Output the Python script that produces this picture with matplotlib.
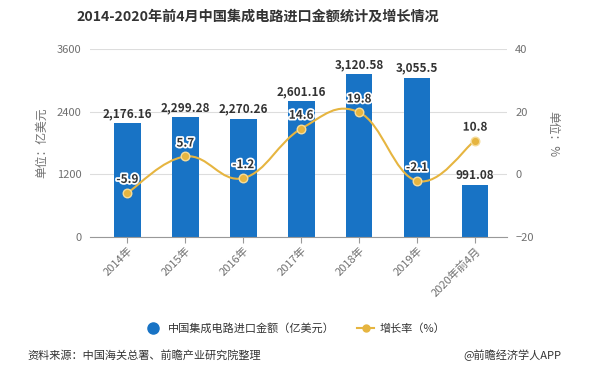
import matplotlib.pyplot as plt
import matplotlib.patheffects as pe
from matplotlib.path import Path
from matplotlib.patches import PathPatch
from matplotlib.lines import Line2D
import numpy as np

plt.rcParams['font.family'] = ['Noto Sans CJK SC', 'DejaVu Sans']

# datos
anios = ["2014年", "2015年", "2016年", "2017年", "2018年", "2019年", "2020年前4月"]
importe = [2176.16, 2299.28, 2270.26, 2601.16, 3120.58, 3055.5, 991.08]
etiquetas_importe = ["2,176.16", "2,299.28", "2,270.26", "2,601.16", "3,120.58", "3,055.5", "991.08"]
crecimiento = [-5.9, 5.7, -1.2, 14.6, 19.8, -2.1, 10.8]

azul = "#1873c5"
dorado = "#e6b540"
gris = "#707070"

fig = plt.figure(figsize=(6.07, 3.84), dpi=100)
ax = fig.add_axes([0.148, 0.383, 0.687, 0.489])
ax2 = ax.twinx()

x = np.arange(len(anios))
ax.bar(x, importe, width=0.46, color=azul, zorder=2)
for xi, v, t in zip(x, importe, etiquetas_importe):
    ax.text(xi, v + 60, t, ha="center", va="bottom", fontsize=8.5,
            fontweight="bold", color="#333333", zorder=5)

ax.set_ylim(0, 3600)
ax.set_yticks([0, 1200, 2400, 3600])
ax.set_xlim(-0.65, 6.55)
ax.grid(axis="y", color="#dddddd", linewidth=0.8, zorder=0)
ax.set_axisbelow(True)
ax.set_xticks(x)
ax.set_xticklabels(anios, rotation=45, ha="right", rotation_mode="anchor",
                   fontsize=8, color=gris)
ax.tick_params(axis="x", length=4, color="#999999", pad=2)
ax.tick_params(axis="y", length=0, labelsize=8, colors=gris, pad=6)
for s in ["top", "right", "left"]:
    ax.spines[s].set_visible(False)
ax.spines["bottom"].set_color("#999999")
ax.set_ylabel("单位：亿美元", fontsize=8.5, color=gris)
ax.yaxis.set_label_coords(-0.1, 0.5)

# curva suave con Bezier
ax2.set_ylim(-20, 40)
ax2.set_yticks([-20, 0, 20, 40])
ax2.tick_params(axis="y", length=0, labelsize=8, colors=gris, pad=6)
for s in ["top", "right", "left", "bottom"]:
    ax2.spines[s].set_visible(False)
ax2.set_ylabel("单位：%", fontsize=8.5, color=gris, rotation=-90, va="center")
ax2.yaxis.set_label_coords(1.11, 0.55)

pts = np.column_stack([x, crecimiento])
verts = [tuple(pts[0])]
codes = [Path.MOVETO]
k = 0.2
for i in range(len(pts) - 1):
    p0 = pts[i - 1] if i > 0 else pts[i]
    p1 = pts[i]
    p2 = pts[i + 1]
    p3 = pts[i + 2] if i + 2 < len(pts) else pts[i + 1]
    c1 = p1 + (p2 - p0) * k
    c2 = p2 - (p3 - p1) * k
    verts += [tuple(c1), tuple(c2), tuple(p2)]
    codes += [Path.CURVE4] * 3
ax2.add_patch(PathPatch(Path(verts, codes), facecolor="none", edgecolor=dorado,
                        linewidth=1.5, zorder=3))
ax2.scatter(x, crecimiento, s=38, color=dorado, edgecolor="#f5dc9a",
            linewidth=1, zorder=4)
for xi, v in zip(x, crecimiento):
    ax2.text(xi, v + 2.2, f"{v:.1f}", ha="center", va="bottom", fontsize=8.5,
             fontweight="bold", color="#333333", zorder=6,
             path_effects=[pe.withStroke(linewidth=2.5, foreground="white")])

fig.suptitle("2014-2020年前4月中国集成电路进口金额统计及增长情况", x=0.424, y=0.975,
             fontsize=10.2, fontweight="bold", color="#333333")

handles = [Line2D([], [], marker="o", color="none", markerfacecolor=azul,
                  markeredgecolor=azul, markersize=8),
           Line2D([], [], marker="o", color=dorado, markerfacecolor=dorado,
                  markeredgecolor=dorado, markersize=5, linewidth=1.5)]
fig.legend(handles, ["中国集成电路进口金额（亿美元）", "增长率（%）"],
           loc="center", bbox_to_anchor=(0.486, 0.145), ncol=2, frameon=False,
           fontsize=8, handlelength=1.6, columnspacing=2.0, handletextpad=0.5,
           labelcolor="#333333")

fig.text(0.045, 0.075, "资料来源：中国海关总署、前瞻产业研究院整理", fontsize=8,
         color="#333333", va="center")
fig.text(0.925, 0.075, "@前瞻经济学人APP", fontsize=8, color="#333333",
         va="center", ha="right")

fig.savefig("out.png", dpi=100)
